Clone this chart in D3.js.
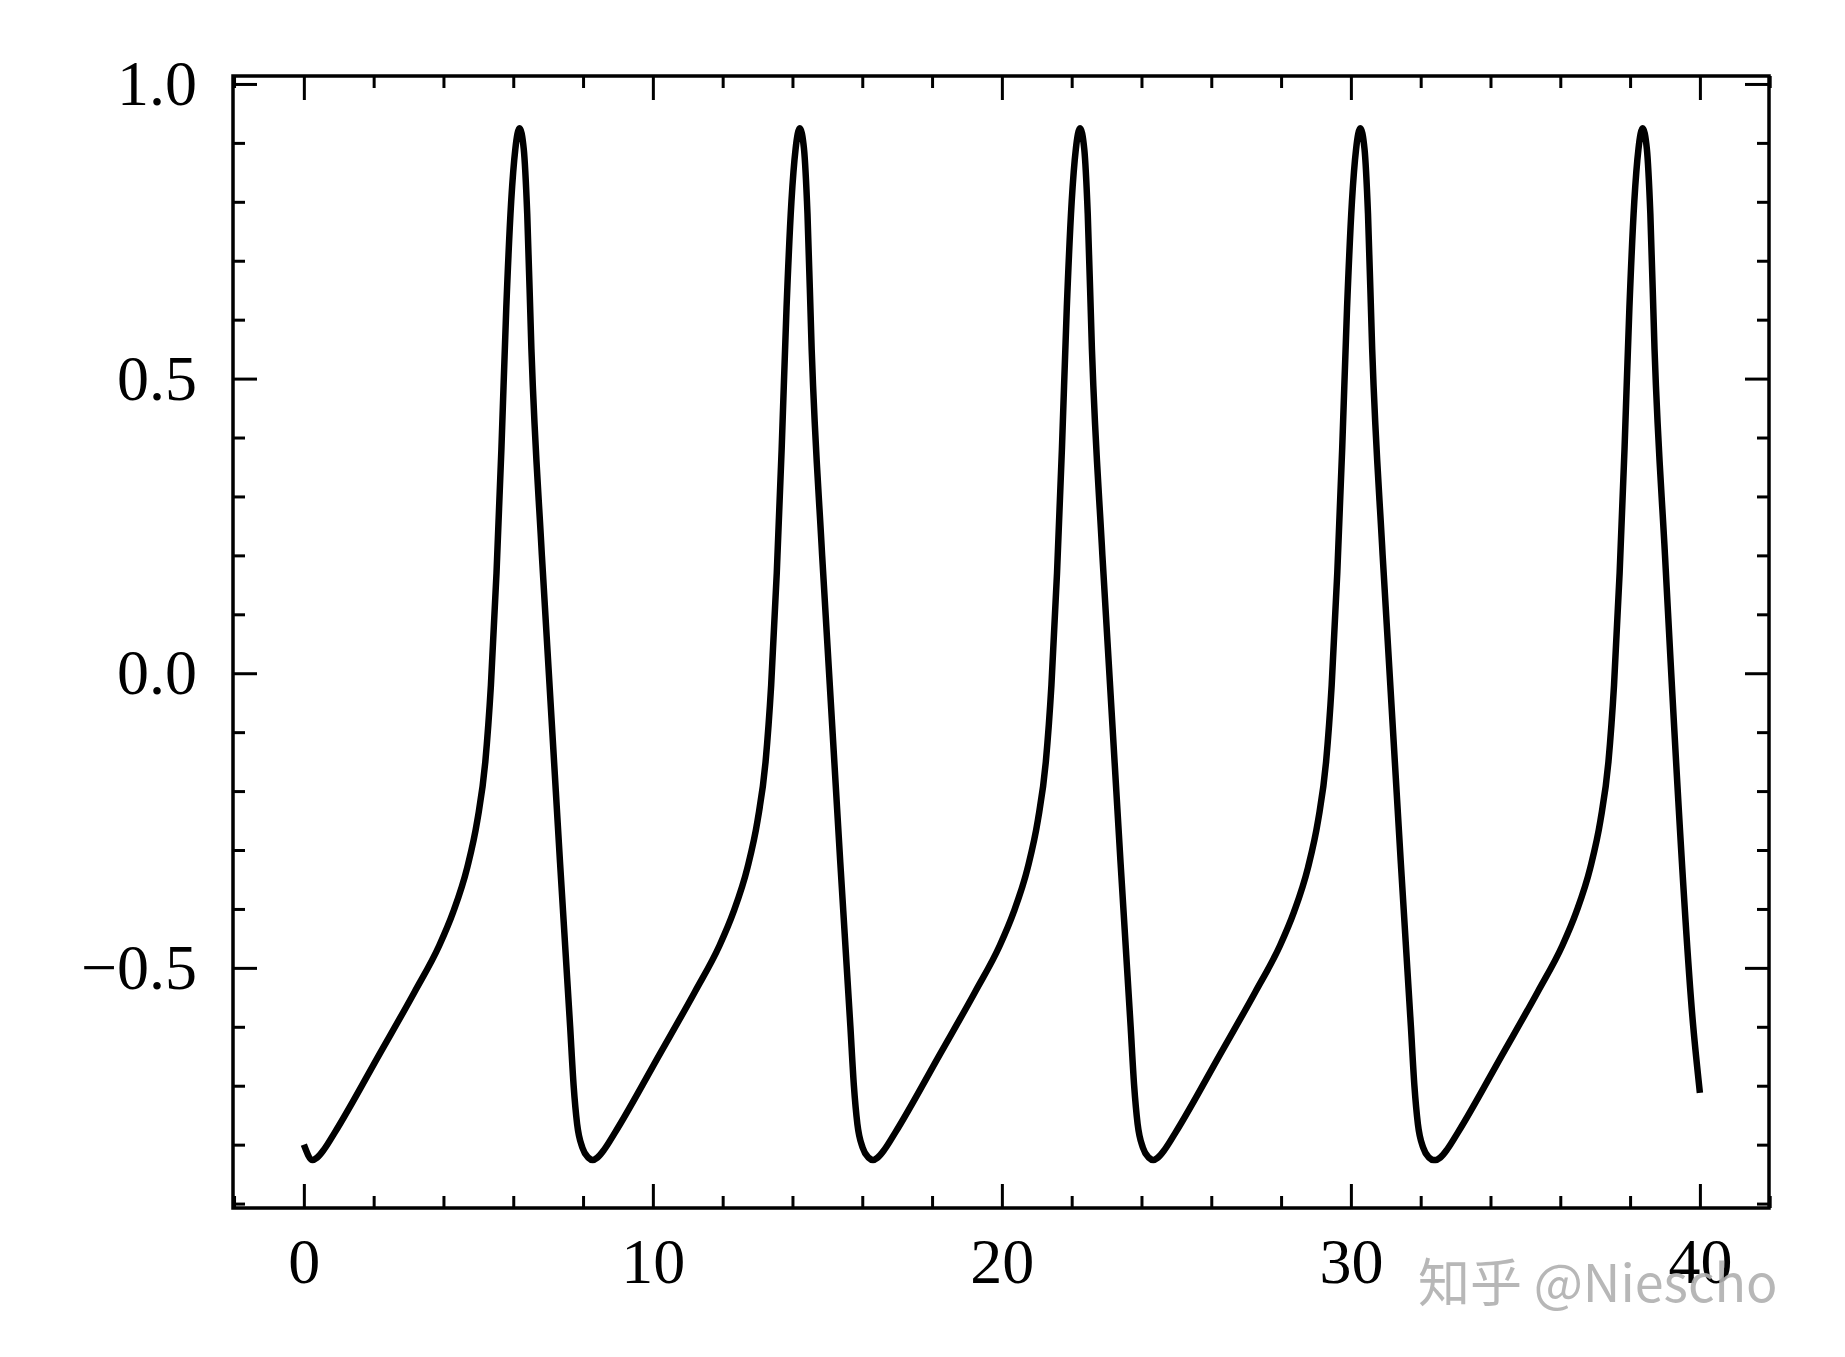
<!DOCTYPE html>
<html><head><meta charset="utf-8">
<script src="https://cdn.jsdelivr.net/npm/d3@7"></script>
<style>body{margin:0;background:#fff}</style>
</head><body>
<svg id="chart" width="1845" height="1357"></svg>
<script>
// one oscillation: [time offset from spike peak, value]
var cycleShape = [
	[-5.93, -0.826], [-5.8, -0.822], [-5.6, -0.808], [-5.3, -0.78], [-4.0, -0.645], [-3.0, -0.54],
	[-2.3, -0.462], [-1.9, -0.405], [-1.5, -0.33], [-1.21, -0.25], [-0.98, -0.15], [-0.82, -0.02],
	[-0.66, 0.17], [-0.52, 0.38], [-0.38, 0.62], [-0.24, 0.80], [-0.12, 0.89], [0, 0.925], [0.12, 0.89],
	[0.22, 0.78], [0.34, 0.55], [0.64, 0.2], [1.45, -0.60], [1.55, -0.70], [1.65, -0.765],
	[1.8, -0.805], [1.97, -0.822], [2.1, -0.826]
];
var peakTimes = [6.18, 14.21, 22.24, 30.27, 38.36];
var startPoint = [0, -0.80];
var endPoint = [40, -0.712];
var xTicks = [0, 10, 20, 30, 40];
var yTicks = [-0.5, 0.0, 0.5, 1.0];

var points = [startPoint];
peakTimes.forEach(function (p) {
	cycleShape.forEach(function (s) {
		var t = p + s[0];
		if (t > points[points.length - 1][0] + 0.05 && t < endPoint[0] - 0.1) points.push([t, s[1]]);
	});
});
points.push(endPoint);

var mLeft = 233, mRight = 1769, mTop = 76, mBottom = 1208;
var x = d3.scaleLinear().domain([-2.03, 41.98]).range([mLeft, mRight]);
var y = d3.scaleLinear().domain([-0.9075, 1.0135]).range([mBottom, mTop]);

var svg = d3.select("#chart");
var font = "'Liberation Serif', 'DejaVu Serif', serif";

var xMinor = d3.range(-2, 43, 2).filter(function (d) { return d % 10 !== 0; });
var yMinor = d3.range(-9, 11).map(function (d) { return d / 10; }).filter(function (d) { return Math.abs(d * 2 - Math.round(d * 2)) > 1e-6; });
var yFmt = function (d) { return d3.format(".1f")(d).replace("-", "\u2212"); };

svg.append("g").attr("transform", "translate(0," + mBottom + ")").call(d3.axisBottom(x).tickValues(xTicks).tickSize(-24).tickPadding(30).tickFormat(d3.format("d")));
svg.append("g").attr("transform", "translate(0," + mBottom + ")").call(d3.axisBottom(x).tickValues(xMinor).tickSize(-12).tickFormat(""));
svg.append("g").attr("transform", "translate(0," + mTop + ")").call(d3.axisTop(x).tickValues(xTicks).tickSize(-24).tickFormat(""));
svg.append("g").attr("transform", "translate(0," + mTop + ")").call(d3.axisTop(x).tickValues(xMinor).tickSize(-12).tickFormat(""));
svg.append("g").attr("transform", "translate(" + mLeft + ",0)").call(d3.axisLeft(y).tickValues(yTicks).tickSize(-24).tickPadding(36).tickFormat(yFmt));
svg.append("g").attr("transform", "translate(" + mLeft + ",0)").call(d3.axisLeft(y).tickValues(yMinor).tickSize(-12).tickFormat(""));
svg.append("g").attr("transform", "translate(" + mRight + ",0)").call(d3.axisRight(y).tickValues(yTicks).tickSize(-24).tickFormat(""));
svg.append("g").attr("transform", "translate(" + mRight + ",0)").call(d3.axisRight(y).tickValues(yMinor).tickSize(-12).tickFormat(""));

svg.selectAll(".domain").remove();
svg.selectAll(".tick line").attr("stroke", "#000").attr("stroke-width", 3);
svg.selectAll(".tick text").attr("font-family", font).attr("font-size", 64).attr("fill", "#000");

svg.append("rect").attr("x", mLeft).attr("y", mTop).attr("width", mRight - mLeft).attr("height", mBottom - mTop)
	.attr("fill", "none").attr("stroke", "#000").attr("stroke-width", 3.5);

svg.append("path").datum(points)
	.attr("fill", "none").attr("stroke", "#000").attr("stroke-width", 6.5).attr("stroke-linejoin", "round")
	.attr("d", d3.line().x(function (d) { return x(d[0]); }).y(function (d) { return y(d[1]); }).curve(d3.curveMonotoneX));

// watermark
svg.append("text").attr("x", 1418).attr("y", 1302).attr("font-family", "'Noto Sans CJK SC', sans-serif")
	.attr("font-size", 52).attr("fill", "#b0b0b0").attr("opacity", 0.9).text("知乎 @Niescho");
</script>
</body></html>
